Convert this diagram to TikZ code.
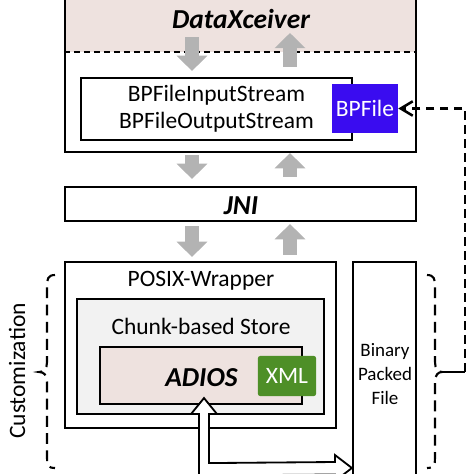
\documentclass[tikz,border=0pt]{standalone}
\usepackage{fontspec}
\setmainfont{Carlito}
\usepackage{tikz}
\usetikzlibrary{arrows.meta,calc}
\usepackage{xcolor}
\definecolor{softpink}{HTML}{EEE2DF}
\definecolor{softgray}{HTML}{F2F2F2}
\definecolor{flowgray}{HTML}{B3B3B3}
\definecolor{fileblue}{HTML}{3A0CF0}
\definecolor{xmlgreen}{HTML}{4E8F27}

\begin{document}
\begin{tikzpicture}[x=0.025cm,y=-0.025cm,font=\fontsize{16.7}{19.2}\selectfont,
  box/.style={draw,line width=1.5pt,inner sep=0pt},
  title/.style={font=\fontsize{19.5}{22}\selectfont\bfseries\itshape},
  flow/.style={draw=flowgray,line width=0.36cm,-{Triangle[length=0.38cm,width=0.75cm]}},
  hollow/.style={draw,fill=white,line width=1.3pt,line join=miter},
  cbrace/.style={line width=1.5pt,dash pattern=on 0.27cm off 0.16cm},
  link/.style={line width=1.8pt,dash pattern=on 0.22cm off 0.13cm}]
\useasboundingbox (0,0) rectangle (474,474);
\fill[softpink] (65,-5) rectangle (416,52);
\node[box,minimum width=8.775cm,minimum height=3.925cm] (dx) at (240.5,73.5) {};
\node[title] (dxlabel) at (241,19) {DataXceiver};
\draw[line width=1pt,dash pattern=on 0.15cm off 0.1cm] (dx.west |- 0,52) -- (dx.east |- 0,52);
\node[box,fill=white,minimum width=6.775cm,minimum height=1.55cm,align=center] (streams) at (216.5,109) {BPFileInputStream\\BPFileOutputStream};
\node[fill=fileblue,text=white,minimum width=1.65cm,minimum height=1.225cm,inner sep=0pt] (bpfile) at (365,108.5) {BPFile};
\node[box,minimum width=8.775cm,minimum height=0.85cm] (jni) at (240.5,204) {};
\node[title] (jnilabel) at (241,206) {JNI};
\node[box,minimum width=6.775cm,minimum height=4.15cm] (posix) at (200.5,345) {};
\node (posixlabel) at (201,281) {POSIX-Wrapper};
\node[box,fill=softgray,minimum width=6.175cm,minimum height=2.875cm] (chunk) at (200.5,356.5) {};
\node (chunklabel) at (201,326) {Chunk-based Store};
\node[box,fill=softpink,minimum width=5.05cm,minimum height=1.425cm] (adios) at (201,375.5) {};
\node[title] (adioslabel) at (201.5,378) {ADIOS};
\node[fill=xmlgreen,text=white,rounded corners=1.5pt,minimum width=1.45cm,minimum height=1cm,inner sep=0pt] (xml) at (287,376) {XML};
\node[box,minimum width=1.575cm,minimum height=5.55cm] (binary) at (384.5,373) {};
\node[align=center,font=\fontsize{13.5}{17}\selectfont] (binarylabel) at (385,374) {Binary\\Packed\\File};
\node[rotate=90] (custlabel) at (17,371) {Customization};

% gray data flow arrows
\coordinate (dn) at (192,0);
\coordinate (up) at (290,0);
\draw[flow,shorten >=0.15cm] (dn |- 0,37) -- (dn |- streams.north);
\draw[flow,shorten <=0.25cm] (up |- streams.north) -- (up |- 0,33);
\draw[flow,shorten <=0.05cm,shorten >=0.175cm] (dn |- dx.south) -- (dn |- jni.north);
\draw[flow,shorten <=0.225cm] (up |- jni.north) -- (up |- dx.south);
\draw[flow,shorten <=0.1cm,shorten >=0.1cm] (dn |- jni.south) -- (dn |- posix.north);
\draw[flow,shorten <=0.15cm,shorten >=0.05cm] (up |- posix.north) -- (up |- jni.south);

% hollow arrow from ADIOS to the packed file
\coordinate (tipA) at ([shift={(3,-7)}]adios.south);
\coordinate (tipB) at (binary.west |- 0,468);
\draw[hollow] (tipA) -- ++(13,16) -- ++(-8,0) -- ++(0,49) -- ($(tipB)+(-17,-6)$) -- ++(0,-7)
  -- (tipB) -- ++(-17,13) -- ++(0,-6.5) -- ($(tipA)+(-5,77.5)$) -- ++(0,-61.5) -- ++(-8,0) -- cycle;

% braces
\draw[cbrace] (55,275) .. controls (48,275) and (47,279) .. (47,286) -- (47,362)
  .. controls (47,369) and (44,372) .. (39,372) .. controls (44,372) and (47,375) .. (47,382)
  -- (47,458) .. controls (47,465) and (48,468) .. (55,468);
\draw[cbrace] (427,275) .. controls (434,275) and (435,279) .. (435,286) -- (435,362)
  .. controls (435,369) and (438,372) .. (442,372) .. controls (438,372) and (435,375) .. (435,382)
  -- (435,458) .. controls (435,465) and (434,468) .. (427,468);
\coordinate (custtip) at (442,372);
\coordinate (turn) at (465,372);
\draw[line width=1.8pt] (custtip) -- (turn);
\draw[link,-{Straight Barb[length=0.3cm,width=0.36cm]}] (turn) |- (bpfile.east);
\end{tikzpicture}
\end{document}
